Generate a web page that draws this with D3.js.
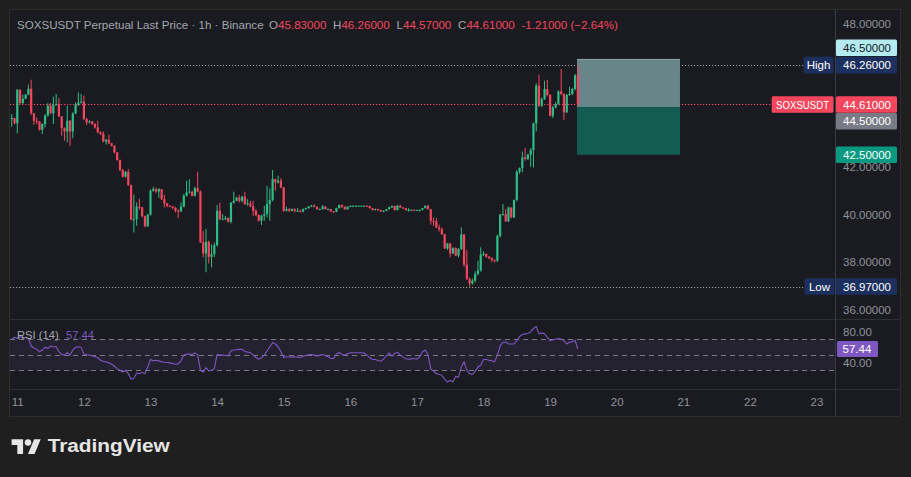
<!DOCTYPE html>
<html>
<head>
<meta charset="utf-8">
<script src="https://cdn.jsdelivr.net/npm/d3@7"></script>
<style>
  html, body { margin: 0; padding: 0; background: #1f1f1f; }
  svg { display: block; }
</style>
</head>
<body>
<svg id="chart" width="911" height="477"></svg>
<script>
// ---- data (hourly candles, hour 0 = day 11 00:00) ----
var firstHour = -2;
var firstOpen = 44.00;
var closes = [
  44.04, 43.82, 45.23, 44.67, 44.85, 45.02, 45.27, 44.24, 43.93, 43.90,
  43.55, 43.79, 44.14, 44.56, 44.24, 44.59, 44.63, 44.11, 43.62, 43.48,
  43.93, 43.48, 44.24, 44.60, 44.69, 44.73, 44.00, 43.86, 43.90, 43.79,
  43.65, 43.44, 43.37, 43.06, 43.13, 42.98, 42.88, 42.60, 42.28, 41.86,
  41.58, 41.78, 41.22, 39.79, 39.80, 40.32, 40.29, 39.92, 39.50, 39.99,
  40.99, 41.06, 40.96, 41.06, 40.64, 40.46, 40.36, 40.33, 40.27, 40.15,
  40.12, 40.32, 40.78, 40.92, 40.95, 40.78, 41.10, 40.96, 38.83, 38.36,
  38.85, 38.22, 38.33, 38.71, 40.15, 39.80, 39.80, 39.85, 39.69, 40.49,
  40.57, 40.70, 40.57, 40.74, 40.43, 40.46, 40.33, 40.15, 39.97, 39.73,
  39.94, 40.01, 40.43, 40.60, 41.48, 41.34, 41.41, 41.13, 40.15, 40.22,
  40.15, 40.22, 40.15, 40.15, 40.12, 40.22, 40.26, 40.33, 40.36, 40.32,
  40.22, 40.22, 40.33, 40.22, 40.22, 40.12, 40.11, 40.26, 40.39, 40.32,
  40.21, 40.32, 40.35, 40.36, 40.36, 40.36, 40.36, 40.36, 40.35, 40.26,
  40.18, 40.22, 40.18, 40.12, 40.15, 40.22, 40.29, 40.35, 40.18, 40.36,
  40.29, 40.26, 40.18, 40.18, 40.19, 40.18, 40.18, 40.19, 40.26, 40.36,
  40.22, 39.73, 39.71, 39.45, 39.38, 39.17, 38.57, 38.78, 38.36, 38.59,
  38.27, 38.55, 39.15, 37.89, 37.29, 37.10, 37.22, 37.50, 37.64, 38.31,
  38.34, 38.22, 38.17, 38.08, 38.06, 39.10, 39.99, 40.01, 39.71, 40.29,
  39.87, 40.60, 41.79, 41.94, 42.39, 42.32, 42.50, 42.70, 43.82, 45.40,
  44.56, 44.84, 45.26, 45.01, 44.14, 44.49, 44.63, 45.16, 45.05, 44.28,
  45.01, 45.05, 45.26, 45.83, 44.61
];
var highs = [
  44.21, 44.05, 45.26, 45.23, 45.02, 45.05, 45.44, 45.65, 44.25, 44.07,
  43.92, 43.82, 44.21, 44.67, 44.67, 44.94, 45.05, 44.88, 44.12, 43.65,
  44.56, 43.95, 44.28, 44.70, 45.12, 45.05, 44.98, 44.05, 43.95, 43.92,
  43.82, 43.93, 43.48, 43.48, 43.16, 43.34, 43.00, 42.90, 42.62, 42.30,
  41.90, 41.82, 41.90, 41.25, 40.83, 40.50, 40.65, 40.32, 39.95, 40.02,
  41.05, 41.16, 41.13, 41.10, 41.00, 40.83, 40.48, 40.38, 40.34, 40.32,
  40.22, 40.50, 40.85, 41.41, 41.48, 40.98, 41.16, 41.79, 41.00, 39.30,
  39.38, 38.90, 38.75, 38.82, 40.39, 40.49, 40.01, 39.94, 39.87, 40.52,
  40.95, 40.74, 40.81, 40.78, 40.95, 40.64, 40.57, 40.57, 40.22, 40.00,
  39.98, 40.36, 41.20, 41.09, 41.86, 41.50, 41.62, 41.51, 41.15, 40.32,
  40.26, 40.25, 40.25, 40.26, 40.20, 40.25, 40.28, 40.35, 40.40, 40.43,
  40.33, 40.25, 40.39, 40.34, 40.25, 40.23, 40.14, 40.28, 40.41, 40.42,
  40.33, 40.34, 40.37, 40.37, 40.37, 40.37, 40.37, 40.37, 40.37, 40.36,
  40.27, 40.24, 40.23, 40.19, 40.17, 40.23, 40.33, 40.37, 40.37, 40.40,
  40.40, 40.30, 40.27, 40.26, 40.21, 40.21, 40.20, 40.20, 40.27, 40.38,
  40.40, 40.22, 39.87, 39.85, 39.57, 39.45, 39.17, 38.80, 38.70, 38.62,
  38.62, 38.58, 39.45, 39.17, 38.50, 37.35, 37.30, 37.61, 38.06, 38.62,
  38.45, 38.36, 38.25, 38.20, 38.12, 39.15, 40.02, 40.43, 40.22, 40.32,
  40.29, 40.62, 41.85, 41.97, 42.64, 42.78, 42.55, 42.78, 43.85, 45.50,
  45.86, 44.90, 45.61, 45.64, 45.05, 44.55, 44.70, 45.20, 46.10, 45.08,
  45.05, 45.36, 45.30, 45.89, 46.26
];
var lows = [
  43.68, 43.78, 43.40, 44.62, 44.62, 44.83, 45.00, 44.17, 43.75, 43.79,
  43.52, 43.37, 43.65, 44.10, 44.20, 43.79, 44.55, 44.08, 43.30, 43.09,
  43.02, 42.87, 43.19, 44.20, 44.55, 44.65, 43.95, 43.75, 43.82, 43.75,
  43.60, 43.40, 43.33, 43.02, 42.93, 42.95, 42.85, 42.55, 42.25, 41.82,
  41.55, 41.55, 41.20, 39.75, 39.24, 39.53, 40.20, 39.88, 39.45, 39.47,
  39.95, 40.95, 40.90, 40.70, 40.60, 40.30, 40.30, 40.30, 40.22, 40.08,
  39.85, 40.10, 40.30, 40.75, 40.88, 40.75, 40.75, 40.92, 38.80, 38.20,
  37.57, 37.94, 37.78, 38.20, 38.65, 39.75, 39.76, 39.75, 39.65, 39.62,
  40.45, 40.55, 40.50, 40.50, 40.40, 40.36, 40.30, 39.94, 39.92, 39.70,
  39.55, 39.73, 39.87, 39.73, 40.55, 40.99, 41.30, 41.10, 40.10, 40.12,
  40.10, 40.12, 40.08, 40.12, 40.08, 40.08, 40.20, 40.24, 40.32, 40.30,
  40.20, 40.18, 40.20, 40.20, 40.18, 40.10, 40.06, 40.09, 40.25, 40.27,
  40.20, 40.20, 40.30, 40.34, 40.35, 40.35, 40.35, 40.35, 40.34, 40.24,
  40.16, 40.16, 40.15, 40.10, 40.09, 40.13, 40.20, 40.27, 40.16, 40.17,
  40.27, 40.24, 40.16, 40.12, 40.16, 40.16, 40.16, 40.12, 40.17, 40.25,
  40.20, 39.57, 39.52, 39.42, 39.28, 39.14, 38.55, 38.50, 38.20, 38.34,
  38.25, 38.20, 38.50, 37.80, 37.25, 36.97, 37.05, 37.15, 37.45, 37.60,
  38.25, 38.19, 38.12, 37.99, 37.98, 38.00, 39.03, 39.95, 39.68, 39.68,
  39.84, 39.85, 40.55, 41.70, 41.76, 42.25, 42.28, 42.00, 41.97, 43.48,
  44.50, 44.50, 44.80, 44.95, 44.10, 44.04, 44.45, 44.60, 45.00, 43.96,
  44.25, 44.98, 45.00, 45.20, 44.57
];
var rsiValues = [
  70.0, 72.6, 71.3, 73.5, 71.3, 72.6, 71.3, 61.3, 58.7, 57.0,
  53.9, 56.1, 59.6, 58.3, 61.3, 60.4, 60.4, 53.9, 50.4, 49.6,
  53.0, 49.6, 56.1, 59.6, 60.4, 59.6, 50.9, 50.0, 49.6, 48.7,
  47.4, 46.1, 43.0, 41.3, 40.9, 39.6, 37.8, 35.2, 32.2, 30.0,
  27.8, 30.0, 25.7, 18.7, 19.6, 26.5, 25.7, 27.4, 25.7, 34.3,
  43.9, 42.2, 43.0, 42.2, 40.9, 40.4, 40.0, 39.6, 38.7, 37.8,
  38.3, 42.2, 49.6, 50.9, 50.9, 50.4, 52.6, 50.0, 30.0, 27.8,
  33.5, 29.1, 30.0, 32.2, 50.4, 49.6, 49.6, 49.1, 48.7, 55.2,
  56.1, 56.5, 57.0, 57.0, 54.3, 53.5, 52.6, 50.0, 46.5, 44.3,
  46.1, 49.6, 55.2, 60.4, 65.7, 63.9, 60.4, 53.9, 46.5, 47.4,
  47.4, 47.0, 47.4, 47.0, 46.5, 47.8, 49.1, 50.0, 50.4, 49.6,
  48.3, 49.6, 50.4, 49.1, 47.4, 45.2, 45.2, 50.9, 53.0, 50.4,
  49.6, 51.3, 52.6, 52.6, 52.6, 52.6, 52.6, 52.2, 49.6, 46.1,
  43.9, 43.9, 42.6, 41.7, 44.3, 49.1, 52.2, 48.3, 51.7, 53.5,
  49.6, 47.0, 44.8, 44.3, 44.8, 45.2, 44.3, 47.4, 53.9, 56.1,
  50.5, 31.5, 29.1, 25.7, 24.8, 23.5, 18.7, 14.8, 17.0, 15.2,
  22.2, 21.3, 34.3, 40.9, 30.0, 25.7, 24.8, 28.3, 34.3, 36.5,
  43.9, 43.9, 43.0, 42.2, 40.9, 49.6, 61.3, 66.1, 66.5, 63.9,
  63.9, 63.9, 68.3, 73.5, 76.1, 77.0, 77.4, 79.6, 83.9, 86.3,
  77.0, 78.3, 77.0, 72.6, 68.3, 69.1, 70.4, 70.9, 70.0, 68.3,
  63.9, 66.1, 67.0, 68.7, 57.44
];
var dayLabels = ["11", "12", "13", "14", "15", "16", "17", "18", "19", "20", "21", "22", "23"];
var priceTicks = [36, 38, 40, 42, 44, 46, 48];
var rsiTicks = [80, 40];
var rsiLevels = [70, 50, 30];
var lastPrice = 44.61;
var highPrice = 46.26;
var lowPrice = 36.97;
var rsiLast = 57.44;
// long position tool: time span in hours, prices
var positionFrom = 201.7, positionTo = 238.8;
var targetPrice = 46.5, entryPrice = 44.5, stopPrice = 42.5;
var headerTitle = "SOXSUSDT Perpetual Last Price \u00b7 1h \u00b7 Binance";
var headerOhlc = [["O", "45.83000"], ["H", "46.26000"], ["L", "44.57000"], ["C", "44.61000"]];
var headerChange = "-1.21000 (\u22122.64%)";

// ---- colours ----
var upColor = "#2ebd85", downColor = "#f6465d";
var textGray = "#8f929a";
var font = "'Liberation Sans', Arial, sans-serif";

var svg = d3.select("#chart");

// frame + panel
svg.append("rect").attr("width", 911).attr("height", 477).attr("fill", "#1f1f1f");
svg.append("rect")
    .attr("x", 9.5).attr("y", 9.5).attr("width", 891).attr("height", 407)
    .attr("fill", "#1a1b20").attr("stroke", "#2d2d30");

// scales
var x = d3.scaleLinear().domain([-2.63, 294.67]).range([10, 835]);
var y = d3.scaleLinear().domain([35.609, 48.575]).range([319, 10]);
var yRsi = d3.scaleLinear().domain([5.5, 95.8]).range([389.3, 319.3]);

var candles = closes.map(function (c, i) {
    var o = i === 0 ? firstOpen : closes[i - 1];
    return {
        h: firstHour + i, o: o, c: c,
        hi: Math.max(highs[i], o, c),
        lo: Math.min(lows[i], o, c)
    };
});

svg.append("defs").append("clipPath").attr("id", "mainClip")
    .append("rect").attr("x", 10).attr("y", 10).attr("width", 825).attr("height", 309);

// RSI band + levels
svg.append("rect")
    .attr("x", 10).attr("width", 825)
    .attr("y", yRsi(70)).attr("height", yRsi(30) - yRsi(70))
    .attr("fill", "#7e57c2").attr("fill-opacity", 0.1);
svg.selectAll("line.lvl").data(rsiLevels).enter().append("line")
    .attr("x1", 10).attr("x2", 835)
    .attr("y1", function (d) { return Math.round(yRsi(d)) + 0.5; })
    .attr("y2", function (d) { return Math.round(yRsi(d)) + 0.5; })
    .attr("stroke", "#787b86").attr("stroke-dasharray", "5,4");

// separators
svg.append("line").attr("x1", 10).attr("x2", 900).attr("y1", 319.5).attr("y2", 319.5).attr("stroke", "#2e3036");
svg.append("line").attr("x1", 10).attr("x2", 900).attr("y1", 389.5).attr("y2", 389.5).attr("stroke", "#2e3036");
svg.append("line").attr("x1", 835.5).attr("x2", 835.5).attr("y1", 10).attr("y2", 416).attr("stroke", "#3a3c43");

// dotted price lines
function dotted(price, x2, color, dash) {
    var yy = Math.round(y(price)) + 0.5;
    svg.append("line").attr("x1", 10).attr("x2", x2).attr("y1", yy).attr("y2", yy)
        .attr("stroke", color).attr("stroke-dasharray", dash);
}
dotted(highPrice, 803, "#9a9ca3", "1.2,1.8");
dotted(lowPrice, 804, "#9a9ca3", "1.2,1.8");
dotted(lastPrice, 771, downColor, "1.3,1.7");

// position tool
var px0 = x(positionFrom), px1 = x(positionTo);
svg.append("rect").attr("x", px0).attr("width", px1 - px0)
    .attr("y", y(targetPrice)).attr("height", y(entryPrice) - y(targetPrice))
    .attr("fill", "#68868a");
svg.append("rect").attr("x", px0).attr("width", px1 - px0)
    .attr("y", y(entryPrice)).attr("height", y(stopPrice) - y(entryPrice))
    .attr("fill", "#135c52");
svg.append("line").attr("x1", px0).attr("x2", px1)
    .attr("y1", y(targetPrice)).attr("y2", y(targetPrice)).attr("stroke", "#8fa8aa");

// candles
var gC = svg.append("g").attr("clip-path", "url(#mainClip)");
gC.selectAll("rect.wick").data(candles).enter().append("rect")
    .attr("class", "wick")
    .attr("x", function (d) { return x(d.h) - 0.5; })
    .attr("width", 1)
    .attr("y", function (d) { return y(d.hi); })
    .attr("height", function (d) { return Math.max(1, y(d.lo) - y(d.hi)); })
    .attr("fill", function (d) { return d.c >= d.o ? upColor : downColor; });
gC.selectAll("rect.body").data(candles).enter().append("rect")
    .attr("class", "body")
    .attr("x", function (d) { return x(d.h) - 1.1; })
    .attr("width", 2.2)
    .attr("y", function (d) { return y(Math.max(d.o, d.c)); })
    .attr("height", function (d) { return Math.max(1, Math.abs(y(d.o) - y(d.c))); })
    .attr("fill", function (d) { return d.c >= d.o ? upColor : downColor; });

// RSI line
var rsiLine = d3.line()
    .x(function (d, i) { return x(firstHour + i); })
    .y(function (d) { return yRsi(d); });
svg.append("path").datum(rsiValues)
    .attr("d", rsiLine).attr("fill", "none")
    .attr("stroke", "#7e57c2").attr("stroke-width", 1.1);

// header
var head = svg.append("g").attr("font-family", font).attr("font-size", 11.6);
head.append("text").attr("x", 17).attr("y", 29).attr("fill", "#a3a6ae").text(headerTitle);
var ohlcX = [269, 333, 396.5, 458];
headerOhlc.forEach(function (p, i) {
    var t = head.append("text").attr("x", ohlcX[i]).attr("y", 29);
    t.append("tspan").attr("fill", "#a3a6ae").text(p[0]);
    t.append("tspan").attr("fill", downColor).text(p[1]);
});
head.append("text").attr("x", 521.5).attr("y", 29).attr("fill", downColor).text(headerChange);

// RSI title
var rt = svg.append("text").attr("x", 17).attr("y", 338.5)
    .attr("font-family", font).attr("font-size", 11.2);
rt.append("tspan").attr("fill", "#a3a6ae").text("RSI (14)");
rt.append("tspan").attr("x", 66).attr("fill", "#7e57c2").text(rsiLast.toFixed(2));

// value labels on the price axis (centres), so tick labels hidden behind them can be dropped
var yHigh = y(highPrice), yLast = y(lastPrice);
var labelCentres = [
    Math.min(y(targetPrice), yHigh - 17.4), yHigh, yLast,
    Math.max(y(entryPrice), yLast + 16.8), y(stopPrice), y(lowPrice)
];
var visibleTicks = priceTicks.filter(function (p) {
    return labelCentres.every(function (c) { return Math.abs(y(p) - c) > 11; });
});

// price axis
var priceAxis = d3.axisRight(y).tickValues(visibleTicks).tickSize(0).tickPadding(8)
    .tickFormat(d3.format(".5f"));
var gP = svg.append("g").attr("transform", "translate(835,0)").call(priceAxis);
gP.select(".domain").remove();
gP.attr("font-family", font).attr("font-size", 11.5).style("color", textGray);

var rsiAxis = d3.axisRight(yRsi).tickValues(rsiTicks).tickSize(0).tickPadding(8)
    .tickFormat(d3.format(".2f"));
var gR = svg.append("g").attr("transform", "translate(835,0)").call(rsiAxis);
gR.select(".domain").remove();
gR.attr("font-family", font).attr("font-size", 11.5).style("color", textGray);

// time axis
var timeAxis = d3.axisBottom(x)
    .tickValues(dayLabels.map(function (d, i) { return i * 24; }))
    .tickSize(0).tickPadding(9)
    .tickFormat(function (d, i) { return dayLabels[i]; });
var gT = svg.append("g").attr("transform", "translate(0,389)").call(timeAxis);
gT.select(".domain").remove();
gT.attr("font-family", font).attr("font-size", 11.5).style("color", textGray);

// axis value labels
function valueLabel(yc, txt, bg, fg) {
    svg.append("rect").attr("x", 836).attr("y", yc - 8.3).attr("width", 61).attr("height", 16.6)
        .attr("rx", 1.5).attr("fill", bg);
    svg.append("text").attr("x", 843).attr("y", yc).attr("dy", "0.36em")
        .attr("font-family", font).attr("font-size", 11.5).attr("fill", fg).text(txt);
}
function tagLabel(yc, txt, x0, w, bg, tl) {
    svg.append("rect").attr("x", x0).attr("y", yc - 8.3).attr("width", w).attr("height", 16.6)
        .attr("rx", 1.5).attr("fill", bg);
    var t = svg.append("text").attr("x", x0 + w / 2).attr("y", yc).attr("dy", "0.36em")
        .attr("text-anchor", "middle")
        .attr("font-family", font).attr("font-size", 11.5).attr("fill", "#ffffff").text(txt);
    if (tl) t.attr("textLength", tl).attr("lengthAdjust", "spacingAndGlyphs");
}
var fmt5 = d3.format(".5f");
valueLabel(labelCentres[0], fmt5(targetPrice), "#b2ebf2", "#131722");
tagLabel(yHigh, "High", 803.5, 30, "#1c3060");
valueLabel(yHigh, fmt5(highPrice), "#1c3060", "#ffffff");
tagLabel(yLast, "SOXSUSDT", 771.7, 61.8, downColor, 53);
valueLabel(yLast, fmt5(lastPrice), downColor, "#ffffff");
valueLabel(labelCentres[3], fmt5(entryPrice), "#787b86", "#ffffff");
valueLabel(labelCentres[4], fmt5(stopPrice), "#089981", "#ffffff");
tagLabel(labelCentres[5], "Low", 804.5, 30, "#1c3060");
valueLabel(labelCentres[5], fmt5(lowPrice), "#1c3060", "#ffffff");

// RSI value label
var yr = yRsi(rsiLast);
svg.append("rect").attr("x", 837).attr("y", yr - 8).attr("width", 41).attr("height", 16)
    .attr("rx", 1.5).attr("fill", "#7e57c2");
svg.append("text").attr("x", 842.5).attr("y", yr).attr("dy", "0.36em")
    .attr("font-family", font).attr("font-size", 11.5).attr("fill", "#ffffff").text(rsiLast.toFixed(2));

// TradingView logo
var logo = svg.append("g").attr("transform", "translate(11.6,436) scale(0.82)").attr("fill", "#e6e6e6");
logo.append("path").attr("d", "M14 22H7V11H0V4h14v18zM28 22h-8l7.5-18h8L28 22z");
logo.append("circle").attr("cx", 20).attr("cy", 8).attr("r", 4);
svg.append("text").attr("x", 47.7).attr("y", 452)
    .attr("font-family", font).attr("font-weight", "bold").attr("font-size", 18)
    .attr("textLength", 122).attr("lengthAdjust", "spacingAndGlyphs")
    .attr("fill", "#e6e6e6").text("TradingView");
</script>
</body>
</html>
